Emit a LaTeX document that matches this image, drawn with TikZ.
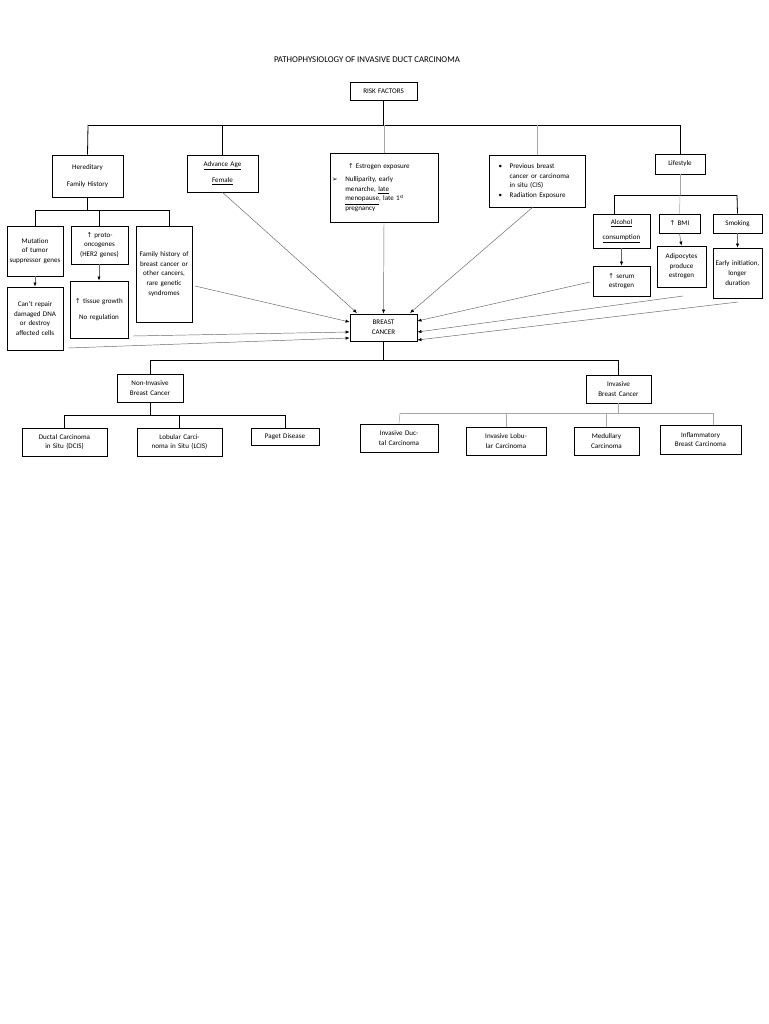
\documentclass[tikz,border=0pt]{standalone}
\usepackage{fontspec}
\setmainfont{Carlito}
\newfontfamily\sym{DejaVu Sans}
\usetikzlibrary{arrows.meta}
\begin{document}
\begin{tikzpicture}[x=0.75pt,y=-0.75pt,
  box/.style={draw,line width=0.6pt,align=center,inner sep=1pt,font=\fontsize{5.3}{7.2}\selectfont},
  ln/.style={line width=0.6pt},
  gl/.style={line width=0.4pt,draw=gray!70},
  ar/.style={line width=0.35pt,draw=gray!80!black,-{Latex[length=3pt,width=2.4pt,black]}}]
\useasboundingbox (0,0) rectangle (768,1024);
\newcommand\bx[6]{\node[box,minimum width=#3*0.75pt,minimum height=#4*0.75pt,text width=#3*0.75pt-3pt,#5] (#1) at (#2) {#6};}
\node[font=\fontsize{6.6}{8}\selectfont] (title) at (367,60) {PATHOPHYSIOLOGY OF INVASIVE DUCT CARCINOMA};
\bx{rf}{383.5,91}{67}{18}{}{RISK FACTORS}
\bx{her}{87.5,176}{71}{42}{}{Hereditary\\[5pt]Family History}
\bx{age}{222.5,173.5}{71}{37}{}{\underline{Advance Age}\\[5pt]\underline{Female}}
\bx{est}{384,187.5}{108}{69}{align=left}{\hspace*{12pt}{\sym\fontsize{5}{6}\selectfont↑} Estrogen exposure\\[3pt]
\makebox[10pt][l]{\sym\fontsize{5}{6}\selectfont➢}Nulliparity, early\\\hspace*{10pt}menarche, \underline{late}\\\hspace*{10pt}\underline{menopause}, late 1\textsuperscript{st}\\\hspace*{10pt}pregnancy}
\bx{prev}{537,181}{96}{52}{align=left}{\makebox[14pt][c]{•}Previous breast\\\hspace*{14pt}cancer or carcinoma\\\hspace*{14pt}in situ (CIS)\\\makebox[14pt][c]{•}Radiation Exposure}
\bx{life}{680,164}{50}{20}{}{Lifestyle}
\bx{mut}{35,251}{56}{50}{}{Mutation of tumor suppressor genes}
\bx{proto}{99.5,245}{57}{38}{}{{\sym\fontsize{5}{6}\selectfont↑} proto-oncogenes (HER2 genes)}
\bx{fam}{164,274}{56}{96}{}{Family history of breast cancer or other cancers, rare genetic syndromes}
\bx{cant}{35,318.5}{56}{63}{}{Can't repair damaged DNA or destroy affected cells}
\bx{tis}{99,309.5}{58}{57}{}{{\sym\fontsize{5}{6}\selectfont↑} tissue growth\\[5pt]No regulation}
\bx{alc}{621.5,231}{57}{34}{}{\underline{Alcohol}\\[4pt]\underline{consumption}}
\bx{bmi}{679.5,223.5}{41}{19}{}{{\sym\fontsize{5}{6}\selectfont↑} BMI}
\bx{smk}{737.5,223.5}{49}{19}{}{Smoking}
\bx{ser}{621.5,281}{57}{30}{}{{\sym\fontsize{5}{6}\selectfont↑} serum estrogen}
\bx{adi}{681.5,266.5}{49}{41}{}{Adipocytes produce estrogen}
\bx{early}{737.5,273}{49}{50}{}{Early initiation, longer duration}
\bx{bc}{383.5,327.5}{67}{27}{}{BREAST\\CANCER}
\bx{non}{150,388}{66}{28}{}{Non-Invasive Breast Cancer}
\bx{inv}{618.5,389}{65}{28}{}{Invasive Breast Cancer}
\bx{dcis}{64.5,442}{85}{28}{}{Ductal Carcinoma in Situ (DCIS)}
\bx{lcis}{179.5,442}{85}{28}{}{Lobular Carcinoma in Situ (LCIS)}
\bx{pag}{285,436.5}{68}{17}{}{Paget Disease}
\bx{idc}{399,438}{78}{28}{}{Invasive Ductal Carcinoma}
\bx{ilc}{506,441}{80}{28}{}{Invasive Lobular Carcinoma}
\bx{med}{606.5,441}{65}{28}{}{Medullary Carcinoma}
\bx{inf}{700.5,439.5}{81}{29}{}{Inflammatory Breast Carcinoma}
% tree lines
\coordinate (t1) at (383.5,125);
\draw[ln] (rf.south) -- (t1);
\draw[ln] (88,125) -- (680,125);
\draw[ln] (88,125) -- (her.north);
\draw[ln] (222.5,125) -- (age.north);
\draw[gl] (384,125) -- (est.north);
\draw[gl] (537,125) -- (prev.north);
\draw[ln] (680,125) -- (life.north);
\draw[ln] (her.south) -- (87.5,210);
\draw[ln] (35,210) -- (169,210);
\draw[ln] (35,210) -- (mut.north);
\draw[ln] (99.5,210) -- (proto.north);
\draw[ln] (169,210) -- (169,226);
\draw[gl] (life.south) -- (680,195);
\draw[ln] (614,195) -- (737,195);
\draw[ln] (614,195) -- (614,214);
\draw[gl] (680,195) -- (bmi.north);
\draw[ln] (737,195) -- (smk.north);
\draw[ar] (mut.south) -- (cant.north);
\draw[ar] (99,264) -- (tis.north);
\draw[ar] (alc.south) -- (ser.north);
\draw[ar] (bmi.south) -- (adi.north);
\draw[ar] (smk.south) -- (early.north);
% arrows into BC
\draw[ar] (age.south) -- (357,313);
\draw[ar] (est.south) -- (bc.north);
\draw[ar] (533,207) -- (410,313);
\draw[ar] (195,286) -- (bc.west |- 0,322);
\draw[ar] (133,336) -- (bc.west |- 0,332);
\draw[ar] (68,348) -- (bc.west |- 0,338);
\draw[ar] (590,282) -- (bc.east |- 0,321);
\draw[ar] (683,296) -- (bc.east |- 0,332);
\draw[ar] (738,302) -- (bc.east |- 0,340);
% lower tree
\draw[ln] (bc.south) -- (383.5,360);
\draw[ln] (150,360) -- (618.5,360);
\draw[ln] (150,360) -- (non.north);
\draw[ln] (618.5,360) -- (inv.north);
\draw[ln] (non.south) -- (150,415);
\draw[ln] (64.5,415) -- (286,415);
\draw[ln] (64.5,415) -- (dcis.north);
\draw[ln] (179.5,415) -- (lcis.north);
\draw[ln] (285,415) -- (pag.north);
\draw[gl] (inv.south) -- (618.5,413);
\draw[gl] (400,413) -- (713,413);
\draw[gl] (400,413) -- (idc.north);
\draw[gl] (506,413) -- (ilc.north);
\draw[gl] (606.5,413) -- (med.north);
\draw[gl] (713,413) -- (713,425);
\end{tikzpicture}
\end{document}
